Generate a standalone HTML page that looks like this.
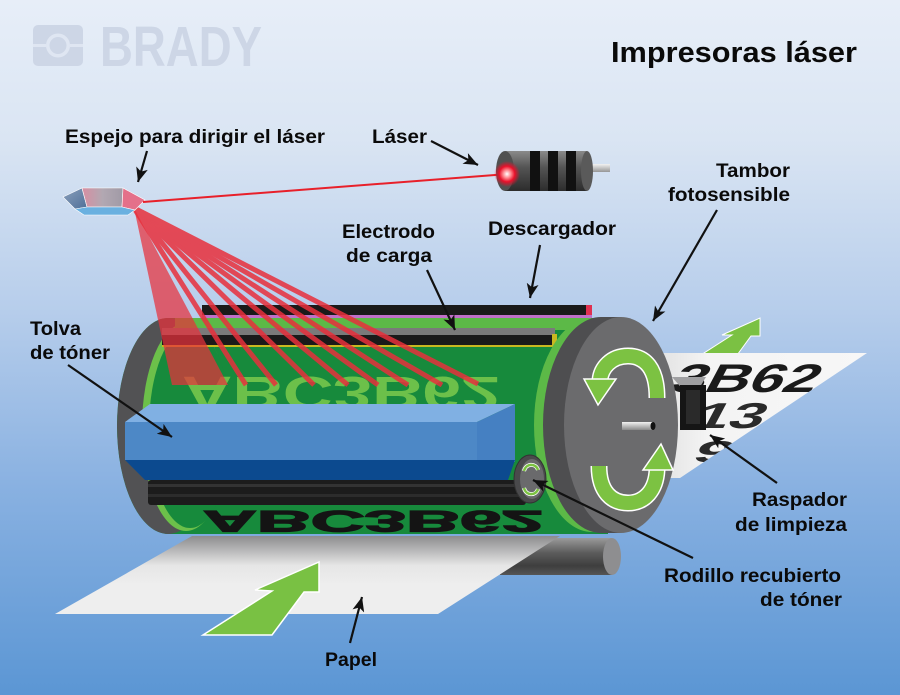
<!DOCTYPE html>
<html><head><meta charset="utf-8">
<style>html,body{margin:0;padding:0;width:900px;height:695px;overflow:hidden;background:#b6cdeb}svg{display:block}</style>
</head><body>
<svg width="900" height="695" viewBox="0 0 900 695" xmlns="http://www.w3.org/2000/svg" font-family="'Liberation Sans', Arial, sans-serif">
<defs>
<linearGradient id="bg" x1="0" y1="0" x2="0" y2="1">
<stop offset="0" stop-color="#e7eef8"/>
<stop offset="0.2" stop-color="#dae5f3"/>
<stop offset="0.45" stop-color="#b6cdeb"/>
<stop offset="0.7" stop-color="#89b1e1"/>
<stop offset="1" stop-color="#5b96d4"/>
</linearGradient>
<linearGradient id="pg" gradientUnits="userSpaceOnUse" x1="0" y1="536" x2="0" y2="585">
<stop offset="0" stop-color="#8c8c8e"/>
<stop offset="0.6" stop-color="#e6e6e6"/>
<stop offset="1" stop-color="#eeeeee"/>
</linearGradient>
<linearGradient id="rg" gradientUnits="userSpaceOnUse" x1="0" y1="538" x2="0" y2="575">
<stop offset="0" stop-color="#9a9a9a"/>
<stop offset="0.4" stop-color="#5c5c5c"/>
<stop offset="0.75" stop-color="#3e3e3e"/>
<stop offset="1" stop-color="#555"/>
</linearGradient>
<linearGradient id="lg" gradientUnits="userSpaceOnUse" x1="0" y1="151" x2="0" y2="191">
<stop offset="0" stop-color="#8a8a8a"/>
<stop offset="0.4" stop-color="#555"/>
<stop offset="1" stop-color="#2c2c2c"/>
</linearGradient>
<linearGradient id="rod" gradientUnits="userSpaceOnUse" x1="0" y1="164" x2="0" y2="173">
<stop offset="0" stop-color="#f2f2f2"/>
<stop offset="1" stop-color="#8a8a8a"/>
</linearGradient>
<linearGradient id="rod2" gradientUnits="userSpaceOnUse" x1="0" y1="422" x2="0" y2="430">
<stop offset="0" stop-color="#f2f2f2"/>
<stop offset="1" stop-color="#8a8a8a"/>
</linearGradient>
<radialGradient id="glow" cx="0.5" cy="0.5" r="0.5">
<stop offset="0" stop-color="#ffffff"/>
<stop offset="0.3" stop-color="#ff8a90"/>
<stop offset="0.6" stop-color="#e8102a"/>
<stop offset="1" stop-color="#e8102a" stop-opacity="0"/>
</radialGradient>
<linearGradient id="mirL" x1="0" y1="0" x2="1" y2="1">
<stop offset="0" stop-color="#8aa0bc"/><stop offset="1" stop-color="#4f6f98"/>
</linearGradient>
<linearGradient id="mirM" x1="0" y1="0" x2="1" y2="0">
<stop offset="0" stop-color="#d88ea2"/><stop offset="0.5" stop-color="#b2a8b2"/><stop offset="1" stop-color="#a09aa6"/>
</linearGradient>
<linearGradient id="paperR" x1="0" y1="0" x2="1" y2="0">
<stop offset="0" stop-color="#dcdcdc"/><stop offset="0.3" stop-color="#f4f4f4"/><stop offset="1" stop-color="#f7f7f7"/>
</linearGradient>
<clipPath id="drumClip">
<ellipse cx="168" cy="426" rx="51" ry="108"/>
<rect x="168" y="318" width="440" height="216"/>
</clipPath>
<clipPath id="paperRClip">
<polygon points="663,353 867,353 680,478 640,478"/>
</clipPath>
<marker id="ah" viewBox="0 0 12 10" refX="12" refY="5" markerUnits="userSpaceOnUse" markerWidth="15" markerHeight="12" orient="auto">
<path d="M0,0 L12,5 L0,10 L3,5 z" fill="#111"/>
</marker>
</defs>

<!-- background -->
<rect x="0" y="0" width="900" height="695" fill="url(#bg)"/>

<!-- logo -->
<rect x="33" y="25" width="50" height="41" rx="5" fill="#cdd6e6"/>
<circle cx="58" cy="45.5" r="12" fill="#dfe6f2"/>
<circle cx="58" cy="45.5" r="8.5" fill="#cdd6e6"/>
<rect x="33" y="44" width="13" height="3" fill="#dfe6f2"/>
<rect x="70" y="44" width="13" height="3" fill="#dfe6f2"/>
<text x="100" y="66" font-size="57" font-weight="bold" fill="#cdd6e6" textLength="162" lengthAdjust="spacingAndGlyphs">BRADY</text>

<!-- title -->
<text x="611" y="62" font-size="29" font-weight="bold" fill="#0a0a0a" textLength="246" lengthAdjust="spacingAndGlyphs">Impresoras láser</text>

<!-- right exit paper and arrow -->
<polygon points="690,362 732,362 751,336 760,336 760,318 722,335 732,335" fill="#7bc143" stroke="#fff" stroke-width="1"/>
<polygon points="663,353 867,353 680,478 640,478" fill="url(#paperR)"/>
<g clip-path="url(#paperRClip)">
<text transform="translate(668,392) skewX(-28)" font-size="40" font-weight="bold" fill="#1a1a1a" textLength="145" lengthAdjust="spacingAndGlyphs">3B62</text>
<text transform="translate(690,428) skewX(-28)" font-size="36" font-weight="bold" fill="#2a2a2a" textLength="70" lengthAdjust="spacingAndGlyphs">13</text>
<text transform="translate(690,462) skewX(-28)" font-size="30" font-weight="bold" fill="#2a2a2a" textLength="40" lengthAdjust="spacingAndGlyphs">9</text>
</g>
<!-- raspador -->
<polygon points="672,377 706,377 692,400" fill="#a0a0a2"/>
<rect x="680" y="385" width="26" height="45" fill="#151515"/>
<rect x="686" y="390" width="14" height="34" fill="#2a2a2a"/>

<!-- bottom roller -->
<rect x="500" y="538" width="112" height="37" fill="url(#rg)"/>
<ellipse cx="612" cy="556.5" rx="9" ry="18.5" fill="#8e8e90"/>

<!-- paper bottom -->
<polygon points="55,614 192,536 560,536 438,614" fill="url(#pg)"/>
<polygon points="203,635 272,635 304,592 319,592 319,562 255,590 272,591" fill="#79c143" stroke="#fff" stroke-width="1.5"/>

<!-- drum body -->
<g clip-path="url(#drumClip)">
<rect x="100" y="310" width="520" height="230" fill="#178a3c"/>
<ellipse cx="168" cy="426" rx="51" ry="108" fill="#525254"/>
<ellipse cx="186" cy="427" rx="44" ry="104" fill="#6cc04a"/>
<ellipse cx="190" cy="428" rx="41" ry="100" fill="#178a3c"/>
<rect x="175" y="318" width="440" height="12" fill="#5cb947"/>
<text transform="translate(182,377) scale(1,-1)" font-size="46" font-weight="bold" fill="#6cc04a" textLength="318" lengthAdjust="spacingAndGlyphs">ABC3B62</text>
<text transform="translate(203,511) scale(1,-1)" font-size="30" font-weight="bold" fill="#141414" stroke="#141414" stroke-width="1.2" textLength="340" lengthAdjust="spacingAndGlyphs">ABC3B62</text>
</g>

<!-- discharger -->
<rect x="202" y="305" width="390" height="10" fill="#1a1a1a"/>
<rect x="202" y="315" width="390" height="3" fill="#c070c8"/>
<rect x="586" y="305" width="6" height="10" fill="#e03050"/>
<!-- charge electrode -->
<rect x="162" y="328" width="393" height="7" fill="#7a7a7a"/>
<rect x="162" y="335" width="393" height="10" fill="#1a1a1a"/>
<rect x="162" y="345" width="393" height="2" fill="#c8b820"/>
<rect x="552" y="334" width="5" height="12" fill="#c8b820"/>

<!-- toner hopper -->
<polygon points="125,422 150,404 515,404 477,422" fill="#80b0e3"/>
<rect x="125" y="422" width="352" height="38" fill="#4d88c6"/>
<polygon points="477,422 515,404 515,462 477,460" fill="#4580c2"/>
<polygon points="125,460 515,460 508,480 145,480" fill="#0c4a8f"/>
<!-- developer roller -->
<rect x="148" y="480" width="378" height="25" rx="3" fill="#1c1c1c"/>
<rect x="148" y="484" width="378" height="3" fill="#333"/>
<rect x="148" y="494" width="378" height="3" fill="#2c2c2c"/>

<!-- green ring near disk -->
<ellipse cx="592" cy="425" rx="58" ry="107" fill="#5cb947"/>
<!-- disk -->
<ellipse cx="601" cy="425" rx="58" ry="108" fill="#4e4e50"/>
<rect x="601" y="317" width="20" height="216" fill="#4e4e50"/>
<ellipse cx="621" cy="425" rx="57" ry="108" fill="#6b6b6d"/>
<!-- disk arrows -->
<g fill="none" stroke-linecap="butt">
<path d="M657,398 C657,368 645,356 628,356 C611,356 601,368 600,380" stroke="#fff" stroke-width="17"/>
<path d="M657,398 C657,368 645,356 628,356 C611,356 601,368 600,380" stroke="#7cc242" stroke-width="14"/>
<path d="M599,466 C599,492 612,503 628,503 C645,503 656,490 657,470" stroke="#fff" stroke-width="17"/>
<path d="M599,466 C599,492 612,503 628,503 C645,503 656,490 657,470" stroke="#7cc242" stroke-width="14"/>
</g>
<polygon points="584,379 616,379 598,405" fill="#7cc242" stroke="#fff" stroke-width="1.5"/>
<polygon points="643,470 673,470 661,444" fill="#7cc242" stroke="#fff" stroke-width="1.5"/>
<!-- shaft -->
<rect x="622" y="422" width="31" height="8" fill="url(#rod2)"/>
<ellipse cx="653" cy="426" rx="2.5" ry="4" fill="#111"/>

<!-- small toner roller end -->
<ellipse cx="530" cy="479" rx="16" ry="24" fill="#4a4a4c" stroke="#333" stroke-width="1"/>
<ellipse cx="532" cy="479" rx="12" ry="20" fill="#6a6a6c"/>
<path d="M524,471 C526,463 536,463 538,470" fill="none" stroke="#fff" stroke-width="4"/>
<path d="M524,471 C526,463 536,463 538,470" fill="none" stroke="#7cc242" stroke-width="2.5"/>
<path d="M524,488 C526,496 536,496 538,489" fill="none" stroke="#fff" stroke-width="4"/>
<path d="M524,488 C526,496 536,496 538,489" fill="none" stroke="#7cc242" stroke-width="2.5"/>

<!-- laser beams -->
<polygon points="134,208 172,385 228,385" fill="#e8303c" opacity="0.72"/>
<g stroke="#e8303c" stroke-width="5" opacity="0.85" fill="none">
<line x1="134" y1="208" x2="246" y2="385"/>
<line x1="134" y1="208" x2="276" y2="385"/>
<line x1="134" y1="208" x2="314" y2="385"/>
<line x1="134" y1="208" x2="348" y2="385"/>
<line x1="134" y1="208" x2="378" y2="385"/>
<line x1="134" y1="208" x2="408" y2="385"/>
<line x1="134" y1="208" x2="442" y2="385"/>
<line x1="134" y1="208" x2="478" y2="384"/>
</g>

<!-- mirror -->
<polygon points="63,197 82,188 87,207 75,209" fill="url(#mirL)" stroke="#fff" stroke-width="0.6"/>
<polygon points="82,188 123,188 122,207 87,207" fill="url(#mirM)" stroke="#fff" stroke-width="0.6"/>
<polygon points="123,188 145,200 135,210 122,207" fill="#e4708a" stroke="#fff" stroke-width="0.6"/>
<polygon points="75,209 87,207 122,207 135,210 128,215 84,215" fill="#6ab0e0" stroke="#fff" stroke-width="0.6"/>

<!-- laser line -->
<line x1="143" y1="202" x2="508" y2="174" stroke="#e8202a" stroke-width="2"/>

<!-- laser device -->
<rect x="590" y="164" width="20" height="8" fill="url(#rod)"/>
<rect x="505" y="151" width="82" height="40" fill="url(#lg)"/>
<ellipse cx="587" cy="171" rx="6" ry="20" fill="#5a5a5a"/>
<rect x="530" y="151" width="10" height="40" fill="#111"/>
<rect x="548" y="151" width="10" height="40" fill="#111"/>
<rect x="566" y="151" width="10" height="40" fill="#111"/>
<ellipse cx="505" cy="171" rx="9" ry="20" fill="#505050"/>
<circle cx="507" cy="174" r="13" fill="url(#glow)"/>

<!-- labels -->
<g font-weight="bold" font-size="19.5" fill="#0a0a0a">
<text x="65" y="143" textLength="260" lengthAdjust="spacingAndGlyphs">Espejo para dirigir el láser</text>
<text x="372" y="143" textLength="55" lengthAdjust="spacingAndGlyphs">Láser</text>
<text x="716" y="177" textLength="74" lengthAdjust="spacingAndGlyphs">Tambor</text>
<text x="668" y="201" textLength="122" lengthAdjust="spacingAndGlyphs">fotosensible</text>
<text x="342" y="238" textLength="93" lengthAdjust="spacingAndGlyphs">Electrodo</text>
<text x="346" y="262" textLength="86" lengthAdjust="spacingAndGlyphs">de carga</text>
<text x="488" y="235" textLength="128" lengthAdjust="spacingAndGlyphs">Descargador</text>
<text x="30" y="335" textLength="51" lengthAdjust="spacingAndGlyphs">Tolva</text>
<text x="30" y="359" textLength="80" lengthAdjust="spacingAndGlyphs">de tóner</text>
<text x="752" y="506" textLength="95" lengthAdjust="spacingAndGlyphs">Raspador</text>
<text x="735" y="531" textLength="112" lengthAdjust="spacingAndGlyphs">de limpieza</text>
<text x="664" y="582" textLength="177" lengthAdjust="spacingAndGlyphs">Rodillo recubierto</text>
<text x="760" y="606" textLength="82" lengthAdjust="spacingAndGlyphs">de tóner</text>
<text x="325" y="666" textLength="52" lengthAdjust="spacingAndGlyphs">Papel</text>
</g>

<!-- pointer arrows -->
<g stroke="#111" stroke-width="2.2" fill="none" marker-end="url(#ah)">
<line x1="147" y1="151" x2="138" y2="182"/>
<line x1="431" y1="141" x2="478" y2="165"/>
<line x1="717" y1="210" x2="653" y2="321"/>
<line x1="427" y1="270" x2="455" y2="330"/>
<line x1="540" y1="245" x2="530" y2="298"/>
<line x1="68" y1="365" x2="172" y2="437"/>
<line x1="777" y1="483" x2="710" y2="435"/>
<line x1="693" y1="558" x2="533" y2="480"/>
<line x1="350" y1="643" x2="362" y2="597"/>
</g>
</svg>
</body></html>
